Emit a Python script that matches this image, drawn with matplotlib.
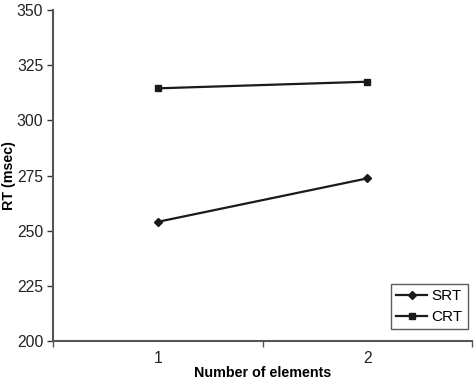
import matplotlib.pyplot as plt

# data
categories = ['1', '2']
srt = [254, 273.7]
crt = [314.5, 317.5]
y_ticks = [200, 225, 250, 275, 300, 325, 350]

plt.rcParams['font.family'] = ['Liberation Sans', 'DejaVu Sans']

fig = plt.figure(figsize=(4.74, 3.84), dpi=100)
ax = fig.add_axes([53 / 474, 1 - 341 / 384, 1 - 53 / 474 - 0.004, (341 - 10) / 384])

x = list(range(1, len(categories) + 1))
ax.plot(x, srt, color='#1a1a1a', lw=1.6, marker='D', ms=4.5, label='SRT')
ax.plot(x, crt, color='#1a1a1a', lw=1.6, marker='s', ms=5, label='CRT')

ax.set_xlim(0.5, 2.5)
ax.set_ylim(200, 350)
ax.set_yticks(y_ticks)
ax.tick_params(axis='y', labelsize=11.3, direction='out', length=4, width=1, colors='#333333', pad=3)
ax.tick_params(axis='y', labelcolor='#222222')

# category labels centred, tick marks between categories (spreadsheet style)
ax.set_xticks(x)
ax.set_xticklabels(categories)
ax.set_xticks([0.5, 1.5, 2.5], minor=True)
ax.tick_params(axis='x', which='major', length=0, labelsize=11.3, pad=7, labelcolor='#222222')
ax.tick_params(axis='x', which='minor', length=4, width=1, color='#555555', direction='out')

for side in ['top', 'right']:
    ax.spines[side].set_visible(False)
for side in ['left', 'bottom']:
    ax.spines[side].set_color('#555555')
    ax.spines[side].set_linewidth(1.5)

ax.set_ylabel('RT (msec)', fontsize=10.3, fontweight='bold')
ax.yaxis.set_label_coords(-0.104, 0.5)
ax.yaxis.label.set_va('center')
ax.set_xlabel('Number of elements', fontsize=10.3, fontweight='bold', labelpad=0)

leg = ax.legend(loc='lower right', bbox_to_anchor=(0.99, 0.035), fontsize=11, frameon=True,
                fancybox=False, edgecolor='#333333', handlelength=2.0, handletextpad=0.3,
                borderpad=0.35, labelspacing=0.45, borderaxespad=0)
leg.get_frame().set_linewidth(1.0)

fig.savefig('out.png', dpi=100)
